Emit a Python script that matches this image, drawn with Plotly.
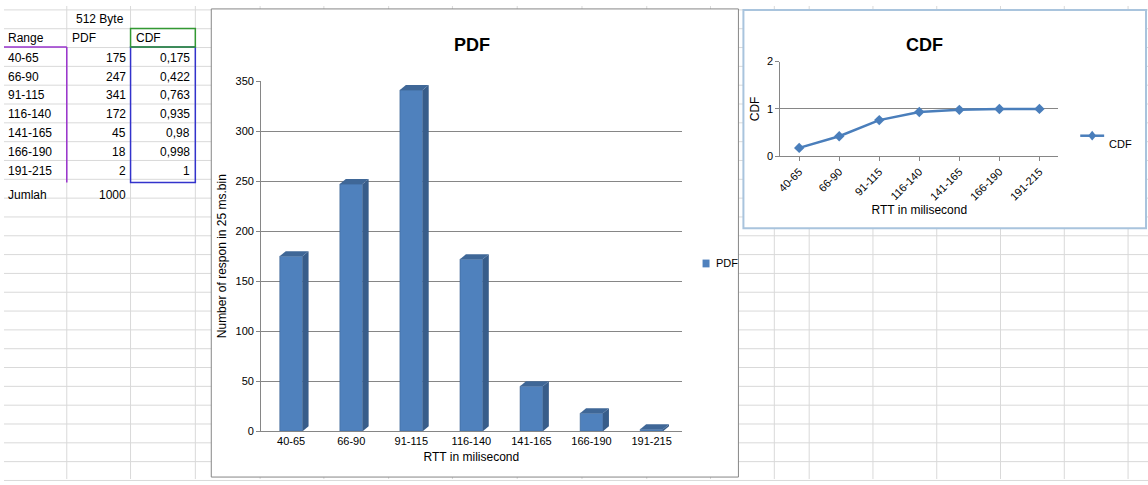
import plotly.graph_objects as go

ranges = ["40-65","66-90","91-115","116-140","141-165","166-190","191-215"]
pdf = [175,247,341,172,45,18,2]
cdf = [0.175,0.422,0.763,0.935,0.98,0.998,1]
cdf_txt = ["0,175","0,422","0,763","0,935","0,98","0,998","1"]
total = 1000

W, H = 1148, 485
px = lambda x: x / W
py = lambda y: 1 - y / H
FONT = "Liberation Sans"

fig = go.Figure()
fig.add_trace(go.Bar(x=ranges, y=pdf, name="PDF", marker=dict(color="#4F81BD", line=dict(color="#3A5F8C", width=0.5)),
                     width=0.38, xaxis="x", yaxis="y"))
fig.add_trace(go.Scatter(x=ranges, y=cdf, name="CDF", mode="lines+markers",
                         line=dict(color="#4A7EBB", width=2.5), marker=dict(symbol="diamond", size=8, color="#4A7EBB"),
                         xaxis="x2", yaxis="y2"))

shapes, ann = [], []
for i in range(0, 26):
    y = 4 + 19.3 * i
    shapes.append(dict(type="line", xref="paper", yref="paper", x0=0, x1=1, y0=py(y), y1=py(y), line=dict(color="#D9D9D9", width=1), layer="below"))
for x in [63, 127, 192, 257, 321, 386, 450, 515, 580, 645, 709, 773, 808, 872, 936, 1000, 1064, 1128]:
    shapes.append(dict(type="line", xref="paper", yref="paper", x0=px(x), x1=px(x), y0=0, y1=1, line=dict(color="#D9D9D9", width=1), layer="below"))
shapes.append(dict(type="rect", xref="paper", yref="paper", x0=px(208), x1=px(737), y0=py(483), y1=py(3), fillcolor="white", line=dict(color="#868686", width=1), layer="below"))
shapes.append(dict(type="rect", xref="paper", yref="paper", x0=px(742), x1=px(1146), y0=py(228), y1=py(4), fillcolor="white", line=dict(color="#A9C4DD", width=2), layer="below"))
shapes.append(dict(type="line", xref="paper", yref="paper", x0=px(0), x1=px(63), y0=py(42), y1=py(42), line=dict(color="#9933CC", width=1.5)))
shapes.append(dict(type="line", xref="paper", yref="paper", x0=px(63), x1=px(63), y0=py(42), y1=py(181), line=dict(color="#9933CC", width=1.5)))
shapes.append(dict(type="rect", xref="paper", yref="paper", x0=px(127), x1=px(192), y0=py(181), y1=py(42), line=dict(color="#3333CC", width=1.5)))
shapes.append(dict(type="rect", xref="paper", yref="paper", x0=px(127), x1=px(192), y0=py(42), y1=py(23), line=dict(color="#339933", width=1.5)))

hw, dx, dy = 0.19, 0.1, 5
for i, v in enumerate(pdf):
    x0, x1 = i + hw, i + hw + dx
    shapes.append(dict(type="path", xref="x", yref="y",
                       path=f"M {x0} 0 L {x1} {dy} L {x1} {v+dy} L {x0} {v} Z",
                       fillcolor="#385D8A", line=dict(width=0)))
    shapes.append(dict(type="path", xref="x", yref="y",
                       path=f"M {i-hw} {v} L {i-hw+dx} {v+dy} L {x1} {v+dy} L {x0} {v} Z",
                       fillcolor="#3F6797", line=dict(width=0)))

def t(x, y, s, anchor="left", size=12):
    ann.append(dict(xref="paper", yref="paper", x=px(x), y=py(y), text=s, showarrow=False, xanchor=anchor, yanchor="middle", font=dict(size=size, color="black", family=FONT)))

t(96, 13, "512 Byte", "center")
t(2, 33, "Range"); t(66, 33, "PDF"); t(130, 33, "CDF")
for i, r in enumerate(ranges):
    y = 53 + 19.3 * i
    t(2, y, r); t(124, y, str(pdf[i]), "right"); t(189, y, cdf_txt[i], "right")
t(2, 194, "Jumlah"); t(124, 194, str(total), "right")
ann.append(dict(xref="paper", yref="paper", x=px(470), y=py(28), text="<b>PDF</b>", showarrow=False, font=dict(size=18, family=FONT, color="black")))
ann.append(dict(xref="paper", yref="paper", x=px(944), y=py(28), text="<b>CDF</b>", showarrow=False, font=dict(size=18, family=FONT, color="black")))
ann.append(dict(xref="paper", yref="paper", x=px(712), y=py(264), text="PDF", showarrow=False, xanchor="left", font=dict(size=11, family=FONT)))
shapes.append(dict(type="rect", xref="paper", yref="paper", x0=px(701), x1=px(708), y0=py(268), y1=py(260), fillcolor="#4F81BD", line=dict(width=0)))
shapes.append(dict(type="line", xref="paper", yref="paper", x0=px(1080), x1=px(1104), y0=py(133), y1=py(133), line=dict(color="#4A7EBB", width=2.5)))
shapes.append(dict(type="path", xref="paper", yref="paper",
                   path=f"M {px(1092)} {py(128)} L {px(1096)} {py(133)} L {px(1092)} {py(138)} L {px(1088)} {py(133)} Z",
                   fillcolor="#4A7EBB", line=dict(width=0)))
ann.append(dict(xref="paper", yref="paper", x=px(1107), y=py(133), text="CDF", showarrow=False, xanchor="left", font=dict(size=11, family=FONT)))

fig.update_layout(
    width=W, height=H, margin=dict(l=0, r=0, t=0, b=0), paper_bgcolor="white", plot_bgcolor="rgba(0,0,0,0)",
    font=dict(family=FONT, size=11, color="black"), shapes=shapes, annotations=ann, showlegend=False, bargap=0.6,
    xaxis=dict(domain=[px(258), px(680)], anchor="y", showline=True, linecolor="#868686", ticks="",
               title=dict(text="RTT in milisecond", standoff=6, font=dict(size=12))),
    yaxis=dict(domain=[py(436), py(77)], range=[0, 350], dtick=50, showgrid=True, gridcolor="#868686", showline=True,
               linecolor="#868686", ticks="outside", ticklen=4, tickcolor="#868686",
               title=dict(text="Number of respon in 25 ms.bin", standoff=6, font=dict(size=12))),
    xaxis2=dict(domain=[px(779), px(1058)], anchor="y2", showline=True, linecolor="#868686", tickangle=-45,
                ticks="outside", ticklen=4, tickcolor="#868686",
                title=dict(text="RTT in milisecond", standoff=2, font=dict(size=12))),
    yaxis2=dict(domain=[py(154), py(57)], anchor="x2", range=[0, 2], dtick=1, showgrid=True, gridcolor="#868686",
                showline=True, linecolor="#868686", ticks="outside", ticklen=4, tickcolor="#868686",
                title=dict(text="CDF", standoff=4, font=dict(size=12))),
)
fig.write_html("out.html", config={"displayModeBar": False},
               post_script="document.body.style.margin='0';document.body.style.overflow='hidden';")
